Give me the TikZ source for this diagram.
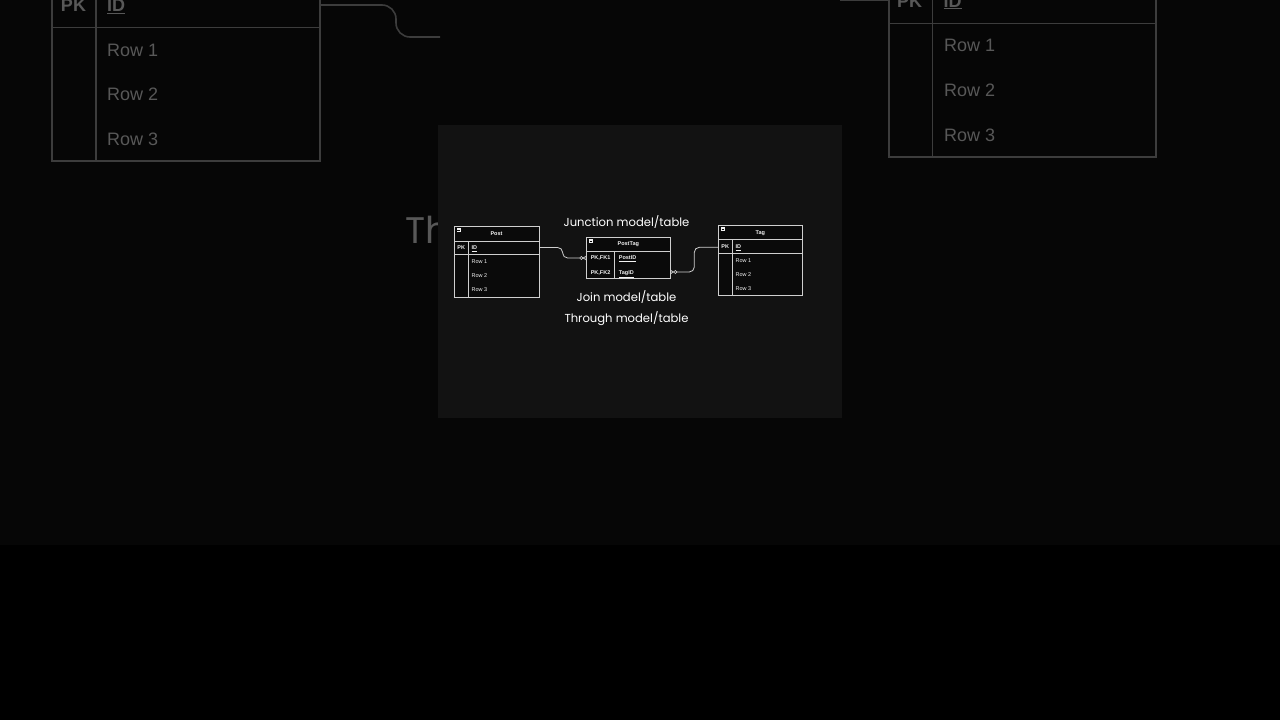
\documentclass[tikz,border=0pt]{standalone}
\usepackage{fontspec}
\setmainfont{Liberation Sans}
\newfontfamily\labelfont{Poppins}
\usetikzlibrary{calc}
\definecolor{dimbg}{HTML}{060606}
\definecolor{panelbg}{HTML}{121212}
\definecolor{tablebg}{HTML}{0A0A0A}
\definecolor{linec}{HTML}{CFCFCF}
\definecolor{textc}{HTML}{F2F2F2}
\definecolor{ghostline}{HTML}{3C3C3C}
\definecolor{ghosttext}{HTML}{585858}
\begin{document}
\begin{tikzpicture}[x=1pt,y=-1pt,
  tbl/.style={draw=linec, line width=0.8pt, fill=tablebg, inner sep=0pt, outer sep=0pt},
  rowarea/.style={inner sep=0pt, outer sep=0pt},
  cell/.style={text=textc, font=\fontsize{5.5}{6}\selectfont, inner sep=0pt, text height=4pt, text depth=0pt},
  cellb/.style={cell, font=\fontsize{5.5}{6}\selectfont\bfseries},
  lbl/.style={text=white, font=\labelfont\fontsize{11.6}{12}\selectfont, inner sep=0pt},
  tline/.style={draw=linec, line width=0.8pt},
  ghost/.style={draw=ghostline, line width=1.6pt},
  ghosttxt/.style={text=ghosttext, font=\fontsize{18}{20}\selectfont, inner sep=0pt},
  conn/.style={draw=linec, line width=0.8pt, rounded corners=5pt},
  icon/.style={fill=textc, draw=none},
]
\useasboundingbox (0,0) rectangle (1280,720);
\fill[black] (0,0) rectangle (1280,720);
\fill[dimbg] (0,0) rectangle (1280,545);

% ---------- ghost (enlarged, blurred) background ----------
\begin{scope}
\clip (0,0) rectangle (1280,545);
% left table
\draw[ghost] (52,-40) rectangle (320,161);
\draw[ghost] (52,27.5) -- (320,27.5);
\draw[ghost] (96,-40) -- (96,161);
\node[ghosttxt, font=\fontsize{18}{20}\selectfont\bfseries, anchor=base] (gpk1) at (73.5,11.7) {PK};
\node[ghosttxt, font=\fontsize{18}{20}\selectfont\bfseries, anchor=base west] (gid1) at (107,11.7) {\underline{ID}};
\node[ghosttxt, anchor=base west] (gr11) at (107,56.7) {Row 1};
\node[ghosttxt, anchor=base west] (gr12) at (107,100.7) {Row 2};
\node[ghosttxt, anchor=base west] (gr13) at (107,145.2) {Row 3};
\draw[ghost, rounded corners=14pt] (320,5) -- (396,5) -- (396,37) -- (440,37);
% right table
\draw[ghost] (889,-40) rectangle (1156,156.7);
\draw[ghost] (889,23.3) -- (1156,23.3);
\draw[ghost] (932.3,-40) -- (932.3,156.7);
\draw[ghost] (840,0.6) -- (889,0.6);
\node[ghosttxt, font=\fontsize{18}{20}\selectfont\bfseries, anchor=base] (gpk2) at (909.5,7) {PK};
\node[ghosttxt, font=\fontsize{18}{20}\selectfont\bfseries, anchor=base west] (gid2) at (943.5,7) {\underline{ID}};
\node[ghosttxt, anchor=base west] (gr21) at (944,51.7) {Row 1};
\node[ghosttxt, anchor=base west] (gr22) at (944,96.2) {Row 2};
\node[ghosttxt, anchor=base west] (gr23) at (944,141.2) {Row 3};
% big ghost text
\node[text=ghosttext, font=\labelfont\fontsize{37}{40}\selectfont, inner sep=0pt, anchor=base west] (gthrough) at (405,243.3) {Through model/table};
\end{scope}

% ---------- central panel ----------
\fill[panelbg] (438,125) rectangle (842,418);

% labels
\node[lbl, anchor=base] (junction) at (626.5,226.7) {Junction model/table};
\node[lbl, anchor=base] (join) at (626.5,301.3) {Join model/table};
\node[lbl, anchor=base] (through) at (626.5,322.8) {Through model/table};

% ---------- Post table ----------
\node[tbl, minimum width=85pt, minimum height=71pt] (post) at (496.5,261.5) {};
\draw[tline] (454,241) -- (539,241);
\draw[tline] (454,254) -- (539,254);
\draw[tline] (468.3,241) -- (468.3,297);
\fill[icon] (456.5,228.3) rectangle (460.5,231.6);
\draw[tablebg, line width=0.4pt] (457.2,230) -- (459.8,230);
\node[cellb] (posttitle) at (496.5,233.5) {Post};
\coordinate (postpk) at (539,247.5);
\node[cellb] (postpkl) at (461.2,247.5) {PK};
\node[cellb, anchor=west] (postid) at (471.5,247.5) {\underline{ID}};
\node[cell, anchor=west] (postr1) at (471.5,261.3) {Row 1};
\node[cell, anchor=west] (postr2) at (471.5,275.3) {Row 2};
\node[cell, anchor=west] (postr3) at (471.5,289.6) {Row 3};

% ---------- PostTag table ----------
\node[tbl, minimum width=84pt, minimum height=41pt] (posttag) at (628.3,257.5) {};
\draw[tline] (586.3,251) -- (670.3,251);
\draw[tline] (614.7,251) -- (614.7,278);
\fill[icon] (588.8,239.3) rectangle (592.8,242.6);
\draw[tablebg, line width=0.4pt] (589.5,241) -- (592.1,241);
\node[cellb] (pttitle) at (628.3,243.6) {PostTag};
\coordinate (ptk1) at (586.3,258);
\coordinate (ptk2) at (670.3,272);
\node[cellb] (ptk1l) at (600.6,257.5) {PK,FK1};
\node[cellb] (ptk2l) at (600.6,272.2) {PK,FK2};
\node[cellb, anchor=west] (ptpid) at (618.7,257.5) {\underline{PostID}};
\node[cellb, anchor=west] (pttid) at (618.7,272.2) {\underline{TagID}};

% ---------- Tag table ----------
\node[tbl, minimum width=84pt, minimum height=70.3pt] (tag) at (760.3,260.15) {};
\draw[tline] (718.3,239.3) -- (802.3,239.3);
\draw[tline] (718.3,253) -- (802.3,253);
\draw[tline] (732.3,239.3) -- (732.3,295.3);
\fill[icon] (720.8,227.3) rectangle (724.8,230.6);
\draw[tablebg, line width=0.4pt] (721.5,229) -- (724.1,229);
\node[cellb] (tagtitle) at (760.3,232) {Tag};
\coordinate (tagpk) at (718.3,247.3);
\node[cellb] (tagpkl) at (725.3,246.3) {PK};
\node[cellb, anchor=west] (tagid) at (735.5,246.3) {\underline{ID}};
\node[cell, anchor=west] (tagr1) at (735.5,260) {Row 1};
\node[cell, anchor=west] (tagr2) at (735.5,274) {Row 2};
\node[cell, anchor=west] (tagr3) at (735.5,288) {Row 3};

% ---------- connectors ----------
\draw[conn] let \p1=(postpk), \p2=(ptk1) in
  (\p1) -- ({(\x1+\x2)/2},\y1) -- ({(\x1+\x2)/2},\y2) -- (\p2);
\draw[conn] let \p1=(ptk2), \p2=(tagpk) in
  (\p1) -- ({(\x1+\x2)/2},\y1) -- ({(\x1+\x2)/2},\y2) -- (\p2);
% zero-or-many markers
\draw[linec, line width=0.6pt] ($(ptk1)+(-3.2,0)$) -- ($(ptk1)+(0,-2)$)
  ($(ptk1)+(-3.2,0)$) -- ($(ptk1)+(0,2)$);
\draw[linec, line width=0.6pt, fill=panelbg] ($(ptk1)+(-5,0)$) circle (1.6pt);
\draw[linec, line width=0.6pt] ($(ptk2)+(3.2,0)$) -- ($(ptk2)+(0,-2)$)
  ($(ptk2)+(3.2,0)$) -- ($(ptk2)+(0,2)$);
\draw[linec, line width=0.6pt, fill=panelbg] ($(ptk2)+(5,0)$) circle (1.6pt);
\end{tikzpicture}
\end{document}
